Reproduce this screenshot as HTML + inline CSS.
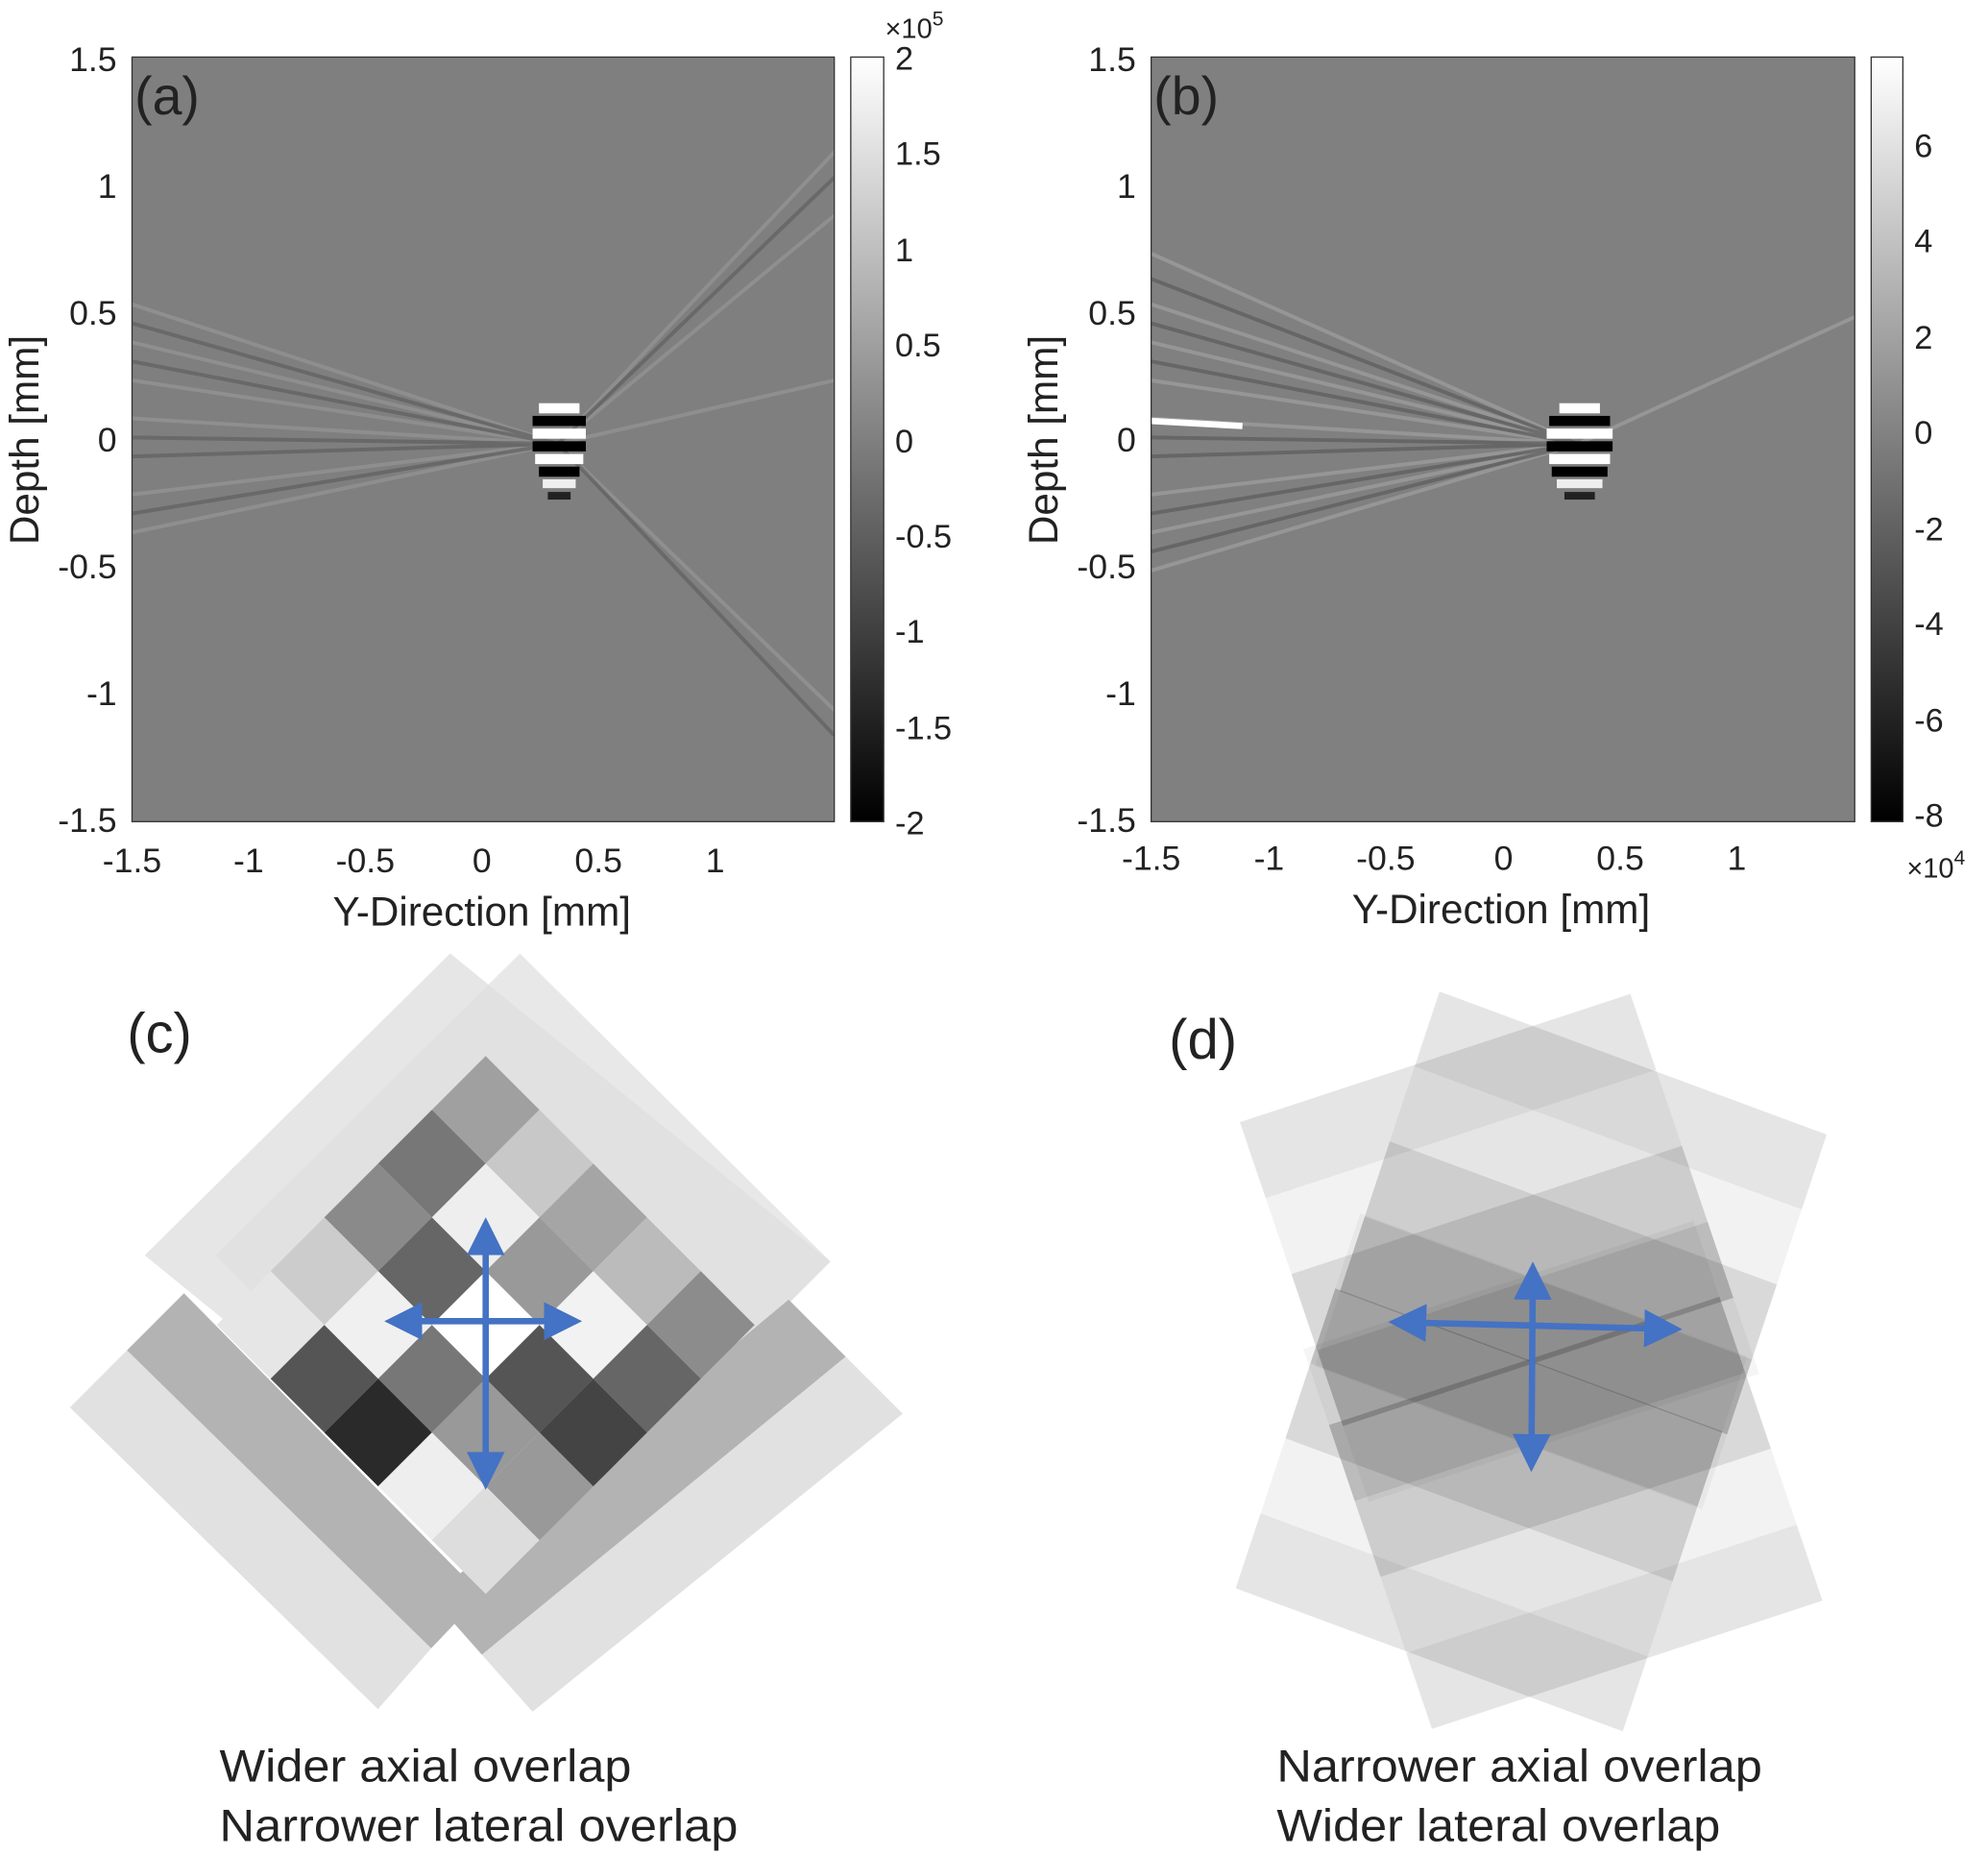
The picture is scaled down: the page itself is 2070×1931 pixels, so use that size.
<!DOCTYPE html>
<html><head><meta charset="utf-8"><style>
html,body{margin:0;padding:0;background:#fff;}
svg{display:block;}
text{font-family:"Liberation Sans",sans-serif;fill:#222;}
</style></head><body>
<svg width="2070" height="1931" viewBox="0 0 1568 1463" xmlns="http://www.w3.org/2000/svg">
<defs>
<linearGradient id="cb" x1="0" y1="0" x2="0" y2="1"><stop offset="0" stop-color="#fff"/><stop offset="1" stop-color="#000"/></linearGradient>
<clipPath id="ca"><rect x="104" y="45" width="554" height="603"/></clipPath>
<clipPath id="cbp"><rect x="908" y="45" width="555" height="603"/></clipPath>
<marker id="ah" markerWidth="6" markerHeight="6" refX="3" refY="3" orient="auto-start-reverse"><path d="M0,0 L6,3 L0,6 z" fill="#4472c4"/></marker>
</defs>

<!-- Panel a -->
<rect x="104" y="45" width="554" height="603" fill="#7f7f7f"/>
<g clip-path="url(#ca)" stroke-width="3" fill="none">
<g stroke="#999" opacity="0.6">
<path d="M104,330 L440,350"/><path d="M104,300 L440,350"/><path d="M104,270 L440,350"/><path d="M104,390 L440,350"/><path d="M104,420 L440,350"/><path d="M104,240 L440,350"/><path d="M658,120 L440,350"/><path d="M658,170 L440,350"/><path d="M658,560 L440,350"/><path d="M658,300 L440,350"/>
</g>
<g stroke="#5a5a5a" opacity="0.6">
<path d="M104,345 L440,350"/><path d="M104,360 L440,350"/><path d="M104,285 L440,350"/><path d="M104,405 L440,350"/><path d="M104,255 L440,350"/><path d="M658,140 L440,350"/><path d="M658,580 L440,350"/>
</g>
</g>
<g>
<rect x="425" y="318" width="32" height="8" fill="#fff"/><rect x="420" y="328" width="42" height="8" fill="#000"/>
<rect x="420" y="338" width="42" height="8" fill="#fff"/><rect x="420" y="348" width="42" height="8" fill="#000"/>
<rect x="422" y="358" width="38" height="8" fill="#fff"/><rect x="425" y="368" width="32" height="8" fill="#000"/>
<rect x="428" y="378" width="26" height="7" fill="#eee"/><rect x="432" y="388" width="18" height="6" fill="#222"/>
</g>
<rect x="104" y="45" width="554" height="603" fill="none" stroke="#333" stroke-width="1"/>
<rect x="671" y="45" width="26" height="603" fill="url(#cb)" stroke="#333" stroke-width="1"/>
<g font-size="27" text-anchor="end">
<text x="92" y="56">1.5</text><text x="92" y="156">1</text><text x="92" y="256">0.5</text><text x="92" y="356">0</text><text x="92" y="456">-0.5</text><text x="92" y="556">-1</text><text x="92" y="656">-1.5</text>
</g>
<g font-size="27" text-anchor="middle">
<text x="104" y="688">-1.5</text><text x="196" y="688">-1</text><text x="288" y="688">-0.5</text><text x="380" y="688">0</text><text x="472" y="688">0.5</text><text x="564" y="688">1</text>
</g>
<text x="380" y="730" font-size="32" text-anchor="middle">Y-Direction [mm]</text>
<text transform="translate(30,347) rotate(-90)" font-size="32" text-anchor="middle">Depth [mm]</text>
<text x="106" y="90" font-size="42">(a)</text>
<g font-size="26">
<text x="706" y="55">2</text><text x="706" y="130">1.5</text><text x="706" y="206">1</text><text x="706" y="281">0.5</text><text x="706" y="357">0</text><text x="706" y="432">-0.5</text><text x="706" y="507">-1</text><text x="706" y="583">-1.5</text><text x="706" y="658">-2</text>
</g>
<text x="698" y="30" font-size="22">×10<tspan font-size="16" dy="-10">5</tspan></text>

<!-- Panel b -->
<rect x="908" y="45" width="555" height="603" fill="#808080"/>
<g clip-path="url(#cbp)" stroke-width="3" fill="none">
<g stroke="#a5a5a5" opacity="0.6">
<path d="M908,330 L1245,350"/><path d="M908,300 L1245,350"/><path d="M908,270 L1245,350"/><path d="M908,390 L1245,350"/><path d="M908,420 L1245,350"/><path d="M908,240 L1245,350"/><path d="M908,450 L1245,350"/><path d="M908,200 L1245,350"/><path d="M1463,250 L1245,350"/>
</g>
<g stroke="#555" opacity="0.6">
<path d="M908,345 L1245,350"/><path d="M908,360 L1245,350"/><path d="M908,285 L1245,350"/><path d="M908,405 L1245,350"/><path d="M908,255 L1245,350"/><path d="M908,435 L1245,350"/><path d="M908,220 L1245,350"/>
</g>
<path d="M908,332 L980,336" stroke="#fff" stroke-width="5"/>
</g>
<g>
<rect x="1230" y="318" width="32" height="8" fill="#fff"/><rect x="1222" y="328" width="48" height="8" fill="#000"/>
<rect x="1220" y="338" width="52" height="8" fill="#fff"/><rect x="1220" y="348" width="52" height="8" fill="#000"/>
<rect x="1222" y="358" width="48" height="8" fill="#fff"/><rect x="1224" y="368" width="44" height="8" fill="#000"/>
<rect x="1228" y="378" width="36" height="7" fill="#eee"/><rect x="1234" y="388" width="24" height="6" fill="#222"/>
</g>
<rect x="908" y="45" width="555" height="603" fill="none" stroke="#333" stroke-width="1"/>
<rect x="1476" y="45" width="25" height="603" fill="url(#cb)" stroke="#333" stroke-width="1"/>
<g font-size="27" text-anchor="end">
<text x="896" y="56">1.5</text><text x="896" y="156">1</text><text x="896" y="256">0.5</text><text x="896" y="356">0</text><text x="896" y="456">-0.5</text><text x="896" y="556">-1</text><text x="896" y="656">-1.5</text>
</g>
<g font-size="27" text-anchor="middle">
<text x="908" y="686">-1.5</text><text x="1001" y="686">-1</text><text x="1093" y="686">-0.5</text><text x="1186" y="686">0</text><text x="1278" y="686">0.5</text><text x="1370" y="686">1</text>
</g>
<text x="1184" y="728" font-size="32" text-anchor="middle">Y-Direction [mm]</text>
<text transform="translate(834,347) rotate(-90)" font-size="32" text-anchor="middle">Depth [mm]</text>
<text x="910" y="90" font-size="42">(b)</text>
<g font-size="26">
<text x="1510" y="124">6</text><text x="1510" y="199">4</text><text x="1510" y="275">2</text><text x="1510" y="350">0</text><text x="1510" y="426">-2</text><text x="1510" y="501">-4</text><text x="1510" y="577">-6</text><text x="1510" y="652">-8</text>
</g>
<text x="1504" y="692" font-size="22">×10<tspan font-size="16" dy="-10">4</tspan></text>

<!-- Panel c -->
<text x="100" y="830" font-size="44">(c)</text>
<g opacity="0.9">
<polygon points="114,990 355,752 655,995 415,1235" fill="#e4e4e4"/>
<polygon points="170,990 410,752 655,995 415,1235" fill="#dcdcdc" opacity="0.7"/>
<polygon points="55,1110 100,1065 340,1300 298,1348" fill="#dedede"/>
<polygon points="100,1065 145,1020 380,1258 340,1300" fill="#ababab"/>
<polygon points="420,1350 380,1305 667,1070 712,1115" fill="#dedede"/>
<polygon points="380,1305 340,1260 622,1025 667,1070" fill="#ababab"/>
</g>
<g transform="translate(383,1045) rotate(45)">
<rect x="-150" y="-150" width="60" height="60" fill="#a0a0a0"/>
<rect x="-90" y="-150" width="60" height="60" fill="#c8c8c8"/>
<rect x="-30" y="-150" width="60" height="60" fill="#a5a5a5"/>
<rect x="30" y="-150" width="60" height="60" fill="#bbb"/>
<rect x="90" y="-150" width="60" height="60" fill="#8c8c8c"/>
<rect x="-150" y="-90" width="60" height="60" fill="#777"/>
<rect x="-90" y="-90" width="60" height="60" fill="#eee"/>
<rect x="-30" y="-90" width="60" height="60" fill="#999"/>
<rect x="30" y="-90" width="60" height="60" fill="#f2f2f2"/>
<rect x="90" y="-90" width="60" height="60" fill="#666"/>
<rect x="-150" y="-30" width="60" height="60" fill="#8a8a8a"/>
<rect x="-90" y="-30" width="60" height="60" fill="#666"/>
<rect x="-30" y="-30" width="60" height="60" fill="#fff"/>
<rect x="30" y="-30" width="60" height="60" fill="#555"/>
<rect x="90" y="-30" width="60" height="60" fill="#444"/>
<rect x="-150" y="30" width="60" height="60" fill="#ccc"/>
<rect x="-90" y="30" width="60" height="60" fill="#f0f0f0"/>
<rect x="-30" y="30" width="60" height="60" fill="#777"/>
<rect x="30" y="30" width="60" height="60" fill="#999"/>
<rect x="90" y="30" width="60" height="60" fill="#999"/>
<rect x="-150" y="90" width="60" height="60" fill="#e6e6e6"/>
<rect x="-90" y="90" width="60" height="60" fill="#555"/>
<rect x="-30" y="90" width="60" height="60" fill="#2a2a2a"/>
<rect x="30" y="90" width="60" height="60" fill="#eee"/>
<rect x="90" y="90" width="60" height="60" fill="#ddd"/>
</g>
<g stroke="#4472c4" stroke-width="5" fill="none">
<line x1="383" y1="975" x2="383" y2="1160" marker-start="url(#ah)" marker-end="url(#ah)"/>
<line x1="318" y1="1042" x2="444" y2="1042" marker-start="url(#ah)" marker-end="url(#ah)"/>
</g>
<text x="173" y="1405" font-size="36" textLength="325" lengthAdjust="spacingAndGlyphs">Wider axial overlap</text>
<text x="173" y="1452" font-size="36" textLength="409" lengthAdjust="spacingAndGlyphs">Narrower lateral overlap</text>

<!-- Panel d -->
<text x="922" y="835" font-size="44">(d)</text>
<g transform="translate(939.7,766.4) scale(0.333,0.389)" fill="#000">
<polygon points="115,305 1040,45 1101,199 176,459" opacity="0.1"/>
<polygon points="176,459 1101,199 1162,353 237,613" opacity="0.05"/>
<polygon points="237,613 1162,353 1223,507 298,767" opacity="0.15"/>
<polygon points="298,767 1223,507 1284,661 359,921" opacity="0.22"/>
<polygon points="359,921 1284,661 1345,815 420,1075" opacity="0.04"/>
<polygon points="588,40 1505,330 1446,482 529,192" opacity="0.1"/>
<polygon points="529,192 1446,482 1387,634 470,344" opacity="0.05"/>
<polygon points="470,344 1387,634 1328,786 411,496" opacity="0.15"/>
<polygon points="411,496 1328,786 1269,938 352,648" opacity="0.22"/>
<polygon points="352,648 1269,938 1210,1090 293,800" opacity="0.04"/>
<polygon points="1495,1275 570,1535 509,1381 1434,1121" opacity="0.1"/>
<polygon points="1434,1121 509,1381 448,1227 1373,967" opacity="0.05"/>
<polygon points="1373,967 448,1227 387,1073 1312,813" opacity="0.15"/>
<polygon points="1312,813 387,1073 326,919 1251,659" opacity="0.22"/>
<polygon points="1251,659 326,919 265,765 1190,505" opacity="0.04"/>
<polygon points="1022,1540 105,1250 164,1098 1081,1388" opacity="0.1"/>
<polygon points="1081,1388 164,1098 223,946 1140,1236" opacity="0.05"/>
<polygon points="1140,1236 223,946 282,794 1199,1084" opacity="0.15"/>
<polygon points="1199,1084 282,794 341,642 1258,932" opacity="0.22"/>
<polygon points="1258,932 341,642 400,490 1317,780" opacity="0.04"/>
</g>
<g stroke="#4472c4" stroke-width="5" fill="none">
<line x1="1209" y1="1010" x2="1208" y2="1146" marker-start="url(#ah)" marker-end="url(#ah)"/>
<line x1="1110" y1="1043" x2="1312" y2="1048" marker-start="url(#ah)" marker-end="url(#ah)"/>
</g>
<text x="1007" y="1405" font-size="36" textLength="383" lengthAdjust="spacingAndGlyphs">Narrower axial overlap</text>
<text x="1007" y="1452" font-size="36" textLength="350" lengthAdjust="spacingAndGlyphs">Wider lateral overlap</text>
</svg>
</body></html>
